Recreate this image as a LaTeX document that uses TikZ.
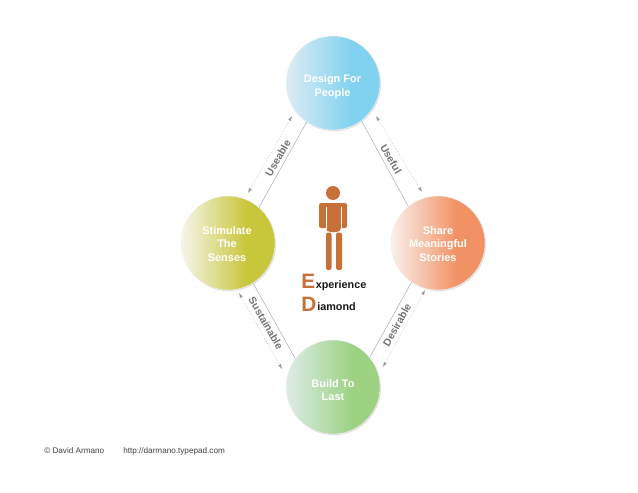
\documentclass[tikz,border=0pt]{standalone}
\usepackage{fontspec}
\setmainfont{Liberation Sans}
\usetikzlibrary{shadows,arrows.meta}

\definecolor{skycol}{RGB}{128,210,240}
\definecolor{skypale}{RGB}{222,236,244}
\definecolor{olivecol}{RGB}{200,198,58}
\definecolor{olivepale}{RGB}{246,246,236}
\definecolor{salmoncol}{RGB}{241,146,100}
\definecolor{salmonpale}{RGB}{250,240,236}
\definecolor{leafcol}{RGB}{156,210,130}
\definecolor{leafpale}{RGB}{222,236,232}
\definecolor{mancol}{RGB}{200,112,58}
\definecolor{linkcol}{RGB}{165,180,198}

\colorlet{bubblefull}{white}
\colorlet{bubblepale}{white}
\pgfdeclarehorizontalshading[bubblepale,bubblefull]{bubbleshade}{100bp}{color(0bp)=(bubblepale); color(25bp)=(bubblepale); color(60bp)=(bubblefull); color(100bp)=(bubblefull)}

\tikzset{
    bubble/.style n args={2}{circle, minimum size=94*0.025cm, inner sep=0pt,
        /utils/exec={\colorlet{bubblefull}{#1}\colorlet{bubblepale}{#2}},
        shade, shading=bubbleshade, draw=black!5, line width=0.3pt,
        drop shadow={shadow xshift=0.25mm, shadow yshift=-0.3mm, opacity=0.2, fill=black!60}},
    bubbletext/.style={align=center, inner sep=0pt, text=white, font=\fontsize{7.8}{9.7}\selectfont\bfseries},
    link/.style={draw=linkcol, line width=0.4pt},
    hint/.style={black!40, densely dotted, line width=0.3pt, {Latex[length=1.2mm,width=0.8mm]}-{Latex[length=1.2mm,width=0.8mm]}},
    edgelabel/.style={text=black!55, font=\fontsize{7.4}{9}\selectfont\bfseries, inner sep=0pt},
    bigletter/.style={text=mancol, font=\fontsize{14.8}{15}\selectfont\bfseries, inner sep=0pt, anchor=base west},
    word/.style={text=black!90, font=\fontsize{7.7}{9}\selectfont\bfseries, inner sep=0pt, anchor=base west},
    credit/.style={text=black!75, font=\fontsize{5.8}{7}\selectfont, inner sep=0pt, anchor=base west}
}

\begin{document}
\begin{tikzpicture}[x=0.025cm, y=-0.025cm]
        \useasboundingbox (0,0) rectangle (638,493);

        %Kreise
        \node[bubble={skycol}{skypale}] (design) at (333,83) {};
        \node[bubble={olivecol}{olivepale}] (senses) at (228,243) {};
        \node[bubble={salmoncol}{salmonpale}] (stories) at (438,243) {};
        \node[bubble={leafcol}{leafpale}] (build) at (333,387) {};

        \node[bubbletext] (designText) at (332.5,86.5) {Design For\\People};
        \node[bubbletext] (sensesText) at (227,244) {Stimulate\\The\\Senses};
        \node[bubbletext] (storiesText) at (438,244) {Share\\Meaningful\\Stories};
        \node[bubbletext] (buildText) at (333,390) {Build To\\Last};

        %Linien
        \draw[link] (design.236) -- (senses.49);
        \draw[link] (design.-53) -- (stories.129);
        \draw[link] (senses.-58) -- (build.143);
        \draw[link] (stories.236) -- (build.39);

        %Pfeile
        \coordinate (useableA) at (248,193);
        \coordinate (useableB) at (292,116);
        \coordinate (usefulA) at (376,116);
        \coordinate (usefulB) at (422,192);
        \coordinate (sustainA) at (239,293);
        \coordinate (sustainB) at (282,369);
        \coordinate (desireA) at (425,290);
        \coordinate (desireB) at (383,367);
        \draw[hint] (useableA) -- (useableB);
        \draw[hint] (usefulA) -- (usefulB);
        \draw[hint] (sustainA) -- (sustainB);
        \draw[hint] (desireA) -- (desireB);

        %Beschriftung
        \node[edgelabel, rotate=60] (useable) at (278,158) {Useable};
        \node[edgelabel, rotate=-60] (useful) at (391,159) {Useful};
        \node[edgelabel, rotate=-60] (sustainable) at (266,323) {Sustainable};
        \node[edgelabel, rotate=61] (desirable) at (397,325) {Desirable};

        %Figur
        \fill[mancol] (333,193) circle (7);
        \fill[mancol, rounded corners=1.5pt] (319,203) rectangle (347,228);
        \fill[mancol, rounded corners=3pt] (326,210) rectangle (341,232);
        \fill[mancol, rounded corners=1.5pt] (326,232.5) rectangle (331.5,270);
        \fill[mancol, rounded corners=1.5pt] (336,232.5) rectangle (342,270);
        \draw[white, line width=0.3pt] (326,207) -- (326,229);
        \draw[white, line width=0.3pt] (341,207) -- (341,229);

        %Titel
        \node[bigletter] (letterE) at (301,288) {E};
        \node[word] (wordE) at (315.5,288) {xperience};
        \node[bigletter] (letterD) at (301,311) {D};
        \node[word] (wordD) at (317,310) {iamond};

        %Fusszeile
        \node[credit] (author) at (44,453) {© David Armano};
        \node[credit] (url) at (123,453) {http://darmano.typepad.com};
    \end{tikzpicture}
\end{document}
